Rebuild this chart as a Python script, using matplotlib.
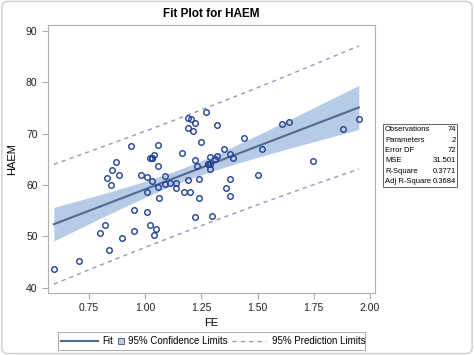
import numpy as np
import matplotlib
import matplotlib.pyplot as plt
from matplotlib.lines import Line2D
from matplotlib.patches import Rectangle, FancyBboxPatch

matplotlib.use("Agg")
plt.rcParams["font.family"] = ["Liberation Sans", "DejaVu Sans"]

# 관측값 (FE, HAEM)
fe = [0.594, 0.708, 0.799, 0.820, 0.829, 0.839, 0.846, 0.851, 0.869, 0.883,
      0.898, 0.938, 0.952, 0.952, 0.980, 1.009, 1.009, 1.009, 1.020, 1.021,
      1.029, 1.030, 1.040, 1.038, 1.049, 1.058, 1.059, 1.059, 1.060, 1.089,
      1.089, 1.110, 1.138, 1.139, 1.162, 1.173, 1.190, 1.202, 1.192, 1.213,
      1.222, 1.191, 1.201, 1.221, 1.231, 1.220, 1.241, 1.241, 1.250, 1.270,
      1.281, 1.290, 1.290, 1.289, 1.299, 1.310, 1.320, 1.320, 1.350, 1.359,
      1.379, 1.379, 1.379, 1.389, 1.440, 1.502, 1.521, 1.609, 1.640, 1.748,
      1.880, 1.950, 1.029, 1.281]
haem = [43.6, 45.2, 50.6, 52.2, 61.4, 47.3, 60.0, 63.0, 64.4, 62.0,
        49.6, 67.6, 55.1, 51.0, 62.0, 61.5, 58.7, 54.8, 52.2, 65.3,
        65.2, 60.7, 65.8, 50.2, 51.4, 67.7, 63.6, 59.7, 57.4, 61.7,
        60.1, 60.3, 60.3, 59.4, 66.3, 58.6, 73.1, 72.8, 71.0, 70.5,
        72.0, 61.0, 58.7, 64.8, 63.6, 53.8, 61.1, 57.4, 68.3, 74.1,
        64.0, 64.1, 63.2, 65.5, 53.9, 65.0, 65.6, 71.7, 66.9, 59.4,
        61.2, 57.8, 66.0, 65.2, 69.1, 61.9, 66.9, 71.9, 72.3, 64.7,
        70.8, 72.8, 65.2, 64.0]

stat_names = ["Observations", "Parameters", "Error DF", "MSE", "R-Square", "Adj R-Square"]
stat_values = ["74", "2", "72", "31.501", "0.3771", "0.3684"]

x_ticks = [0.75, 1.00, 1.25, 1.50, 1.75, 2.00]
y_ticks = [40, 50, 60, 70, 80, 90]

# 회귀 적합 및 신뢰/예측 구간
x = np.array(fe)
y = np.array(haem)
n = len(x)
b1, b0 = np.polyfit(x, y, 1)
resid = y - (b0 + b1 * x)
s = np.sqrt(np.sum(resid ** 2) / (n - 2))
t_crit = 1.9935
xg = np.linspace(x.min(), x.max(), 200)
yg = b0 + b1 * xg
sxx = np.sum((x - x.mean()) ** 2)
se_mean = s * np.sqrt(1 / n + (xg - x.mean()) ** 2 / sxx)
se_pred = s * np.sqrt(1 + 1 / n + (xg - x.mean()) ** 2 / sxx)

W, H = 474, 355
fig = plt.figure(figsize=(4.74, 3.55), dpi=100)
ax = fig.add_axes([48 / W, 1 - 293 / H, 327 / W, 268 / H])

band_col = "#b6cbe6"
line_col = "#54698f"
pi_col = "#8c9cc0"
mk_col = "#233f94"
dash = (0, (3, 3))

ax.fill_between(xg, yg - t_crit * se_mean, yg + t_crit * se_mean,
                color=band_col, lw=0, zorder=1)
ax.plot(xg, yg, color=line_col, lw=1.5, zorder=2)
ax.plot(xg, yg + t_crit * se_pred, color=pi_col, lw=1, ls=dash, zorder=2)
ax.plot(xg, yg - t_crit * se_pred, color=pi_col, lw=1, ls=dash, zorder=2)
ax.plot(x, y, "o", mfc="none", mec=mk_col, ms=4, mew=1, zorder=3)

ax.set_xlim(0.568, 2.022)
ax.set_ylim(39.0, 91.1)
ax.set_xticks(x_ticks)
ax.set_xticklabels([f"{v:.2f}" for v in x_ticks])
ax.set_yticks(y_ticks)
ax.tick_params(colors="#aaaaaa", labelcolor="#222222", labelsize=7.5, length=4, width=0.8)
for sp in ax.spines.values():
    sp.set_color("#b0b0b0")
    sp.set_linewidth(0.8)
ax.set_xlabel("FE", fontsize=8, labelpad=3)
ax.set_ylabel("HAEM", fontsize=8, labelpad=6)
fig.text(211 / W, 1 - 14 / H, "Fit Plot for HAEM", ha="center", va="center",
         fontsize=8.5, fontweight="bold")

# 통계 표
fig.patches.append(Rectangle((383 / W, 1 - 187 / H), 74 / W, 63 / H,
                             transform=fig.transFigure, fill=False,
                             ec="#666666", lw=0.7))
for i, (nm, val) in enumerate(zip(stat_names, stat_values)):
    yy = 1 - (130 + i * 10.3) / H
    fig.text(385 / W, yy, nm, ha="left", va="center", fontsize=5.5)
    fig.text(456 / W, yy, val, ha="right", va="center", fontsize=5.5)

# 범례 (수동 배치)
ly = 1 - 341 / H
fig.patches.append(Rectangle((58 / W, 1 - 350 / H), 307 / W, 18 / H,
                             transform=fig.transFigure, fill=False,
                             ec="#aaaaaa", lw=0.7))
fig.lines.append(Line2D([61 / W, 98 / W], [ly, ly], transform=fig.transFigure,
                        color=line_col, lw=1.5))
fig.text(102 / W, ly, "Fit", ha="left", va="center", fontsize=7)
fig.patches.append(Rectangle((118 / W, 1 - 344 / H), 6 / W, 6 / H,
                             transform=fig.transFigure, fc=band_col,
                             ec="#55657f", lw=0.7))
fig.text(128 / W, ly, "95% Confidence Limits", ha="left", va="center", fontsize=7)
fig.lines.append(Line2D([232 / W, 266 / W], [ly, ly], transform=fig.transFigure,
                        color=pi_col, lw=1, ls=dash))
fig.text(272 / W, ly, "95% Prediction Limits", ha="left", va="center", fontsize=7)

# 바깥 테두리
fig.patches.append(FancyBboxPatch((0.004, 0.004), 0.992, 0.992,
                                  boxstyle="round,pad=0,rounding_size=0.015",
                                  transform=fig.transFigure, fill=False,
                                  ec="#cccccc", lw=1))

plt.savefig("out.png", dpi=100)
plt.close()
